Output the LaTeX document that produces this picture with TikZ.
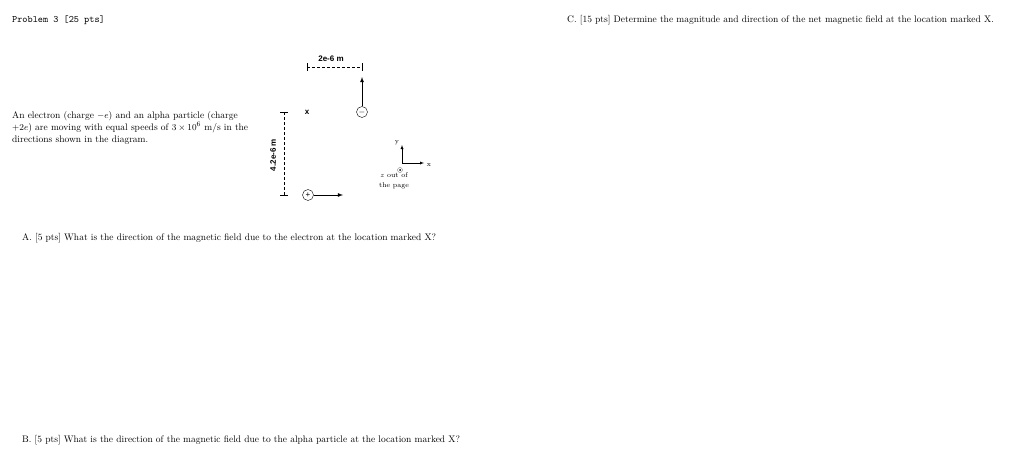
\documentclass[tikz,border=0pt]{standalone}
\usepackage{fontspec}
\newfontfamily\hel{Liberation Sans}
\begin{document}
\begin{tikzpicture}[x=1pt,y=-1pt,
  txt/.style={anchor=west,inner sep=0pt,font=\fontsize{9.5}{12}\selectfont},
  lab/.style={inner sep=0pt,font=\hel\bfseries\fontsize{8}{9}\selectfont},
  part/.style={circle,draw,minimum size=11pt,inner sep=0pt,font=\hel\fontsize{8}{8}\selectfont},
  arr/.style={-latex,thick}]
\useasboundingbox (0,0) rectangle (1024,460);
\node[txt,font=\ttfamily\fontsize{9.8}{10}\selectfont] (p) at (12,20) {Problem 3 [25 pts]};
\node[txt,anchor=north west,text width=236pt,align=left] (d) at (12,111)
 {An electron (charge $-e$) and an alpha particle (charge $+2e$) are moving with equal speeds of $3\times10^6$ m/s in the directions shown in the diagram.};
\node[txt] (c) at (567,20) {C. [15 pts] Determine the magnitude and direction of the net magnetic field at the location marked X.};
\node[txt] (a) at (22,238) {A. [5 pts] What is the direction of the magnetic field due to the electron at the location marked X?};
\node[txt] (b) at (22,440) {B. [5 pts] What is the direction of the magnetic field due to the alpha particle at the location marked X?};
% dimensions
\coordinate (h1) at (307,67); \coordinate (h2) at (362,67);
\draw[densely dashed,thin] (h1) -- (h2);
\draw[thin] (307,63) -- (307,71) (362,63) -- (362,71);
\node[lab] (hl) at (331,59) {2e-6 m};
\coordinate (v1) at (284,112); \coordinate (v2) at (284,195);
\draw[densely dashed,thin] (v1) -- (v2);
\draw[thin] (280,112) -- (288,112) (280,195) -- (288,195);
\node[lab,rotate=90] (vl) at (273,155) {4.2e-6 m};
% charges
\node[lab] (X) at (307,112) {x};
\node[part] (e) at (362,112) {$-$};
\coordinate (et) at (362,77);
\draw[arr] (e) -- (et);
\node[part] (al) at (308,195) {+};
\coordinate (at) at (343,195);
\draw[arr] (al) -- (at);
% axes
\coordinate (o) at (402,163);
\coordinate (oy) at (402,145);
\coordinate (ox) at (424,163);
\draw[-latex,thin] (o) -- (oy);
\draw[-latex,thin] (o) -- (ox);
\node[txt,anchor=center,font=\fontsize{7}{8}\selectfont] (yl) at (397,143) {y};
\node[txt,anchor=center,font=\fontsize{7}{8}\selectfont] (xl) at (429,165) {x};
\node[circle,draw,gray,minimum size=5pt,inner sep=0pt] (z) at (400,170) {};
\fill (z) circle (1pt);
\node[txt,anchor=center,align=center,font=\fontsize{7}{10}\selectfont] (zl) at (394,181) {$z$ out of\\the page};
\end{tikzpicture}
\end{document}
